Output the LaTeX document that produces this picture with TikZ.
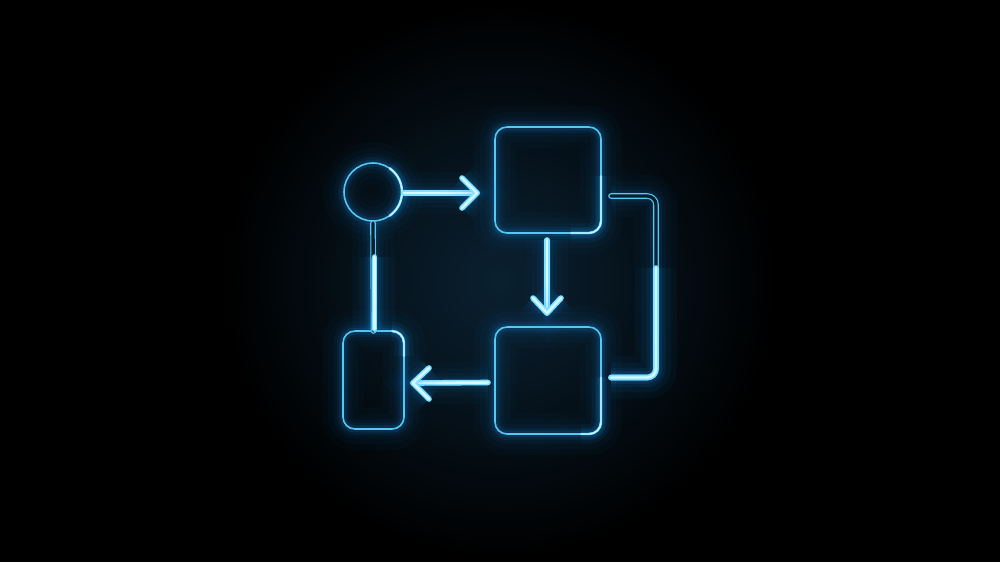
\documentclass[tikz,border=0pt]{standalone}
\usetikzlibrary{calc}
\definecolor{glowc}{HTML}{1E9BFF}
\definecolor{linec}{HTML}{55C8F4}
\definecolor{brightc}{HTML}{7FE3FF}
\definecolor{corec}{HTML}{D8F8FF}
\definecolor{innerc}{HTML}{06202E}
\definecolor{bgc}{HTML}{0A2030}
\pgfdeclareradialshading{bgglow}{\pgfpoint{0bp}{0bp}}{color(0bp)=(bgc); color(10bp)=(bgc!65!black); color(25bp)=(black); color(50bp)=(black)}
\begin{document}
\begin{tikzpicture}[x=0.02cm,y=-0.02cm,
  glow/.style={preaction={draw=glowc,line width=24pt,draw opacity=0.025},
               preaction={draw=glowc,line width=17pt,draw opacity=0.03},
               preaction={draw=glowc,line width=11pt,draw opacity=0.045},
               preaction={draw=glowc,line width=7pt,draw opacity=0.07},
               preaction={draw=glowc,line width=4pt,draw opacity=0.12}},
  softglow/.style={preaction={draw=glowc,line width=11pt,draw opacity=0.04},
               preaction={draw=glowc,line width=6pt,draw opacity=0.08}},
  box/.style={draw=linec, line width=0.9pt, rounded corners=6.8pt, inner sep=0pt, outer sep=0pt, glow},
  circ/.style={circle, draw=linec, line width=0.9pt, inner sep=0pt, outer sep=0pt, glow},
  tube/.style={glow, draw=linec, line width=3.2pt, line cap=round, line join=round, postaction={draw=innerc, line width=1.9pt}},
  brighttube/.style={glow, draw=brightc, line width=3.2pt, line cap=round, line join=round, postaction={draw=corec, line width=1.4pt}},
  brightline/.style={softglow, draw=brightc, line width=1.4pt, line cap=round, postaction={draw=corec, line width=0.5pt}}]
\fill[black] (0,0) rectangle (1000,562);
\shade[shading=bgglow] (500,281) circle (275);
\useasboundingbox (0,0) rectangle (1000,562);

% nodes
\node[circ, minimum size=1.16cm] (c) at (373,192) {};
\node[box, minimum width=2.12cm, minimum height=2.12cm] (tr) at (548,180) {};
\node[box, minimum width=2.12cm, minimum height=2.14cm] (br) at (548,380.5) {};
\node[box, minimum width=1.22cm, minimum height=1.96cm] (lb) at (373.5,380) {};

% bright highlights on shapes
\draw[brightline] (c.center) ++(-55:29) arc[start angle=-55, end angle=55, radius=29];
\draw[brightline, rounded corners=6.8pt] ($(tr.east)+(0,-4)$) -- (tr.south east) -- ($(tr.south east)+(-30,0)$);
\draw[brightline, rounded corners=6.8pt] ($(br.east)+(0,-3)$) -- (br.south east) -- ($(br.south east)+(-20,0)$);
\draw[brightline, rounded corners=6.8pt] ($(lb.north east)+(-12,0)$) -- (lb.north east) -- ($(lb.north east)+(0,25)$);

% circle -> top right box
\coordinate (a1) at ($(c.east)+(75,1)$);
\draw[brighttube] ($(c.east)+(2,1)$) -- (a1);
\draw[brighttube] ($(a1)+(-15,-15)$) -- (a1) -- ($(a1)+(-15,15)$);

% top right -> bottom right
\coordinate (a2s) at ($(tr.south)+(-1,7)$);
\coordinate (a2) at ($(br.north)+(-1,-14)$);
\draw[brighttube] (a2s) -- (a2);
\draw[brighttube] ($(a2)+(-14,-15)$) -- (a2) -- ($(a2)+(14,-15)$);

% bottom right -> left box
\coordinate (a3s) at ($(br.west)+(-7,2)$);
\coordinate (a3) at ($(lb.east)+(9,3)$);
\draw[brighttube] (a3s) -- (a3);
\draw[brighttube] ($(a3)+(16,-15)$) -- (a3) -- ($(a3)+(16,16)$);

% right feedback connector
\draw[tube, rounded corners=5pt] ($(tr.east)+(10,16)$) -- ($(tr.east)+(55,16)$) -- ($(br.east)+(55,-3)$) -- ($(br.east)+(10,-3)$);
\draw[brighttube, rounded corners=5pt] ($(tr.east)+(55,88)$) -- ($(br.east)+(55,-3)$) -- ($(br.east)+(10,-3)$);

% circle -> left box
\draw[tube] ($(c.south)+(0,2)$) -- (lb.north);
\draw[brighttube] ($(lb.north)+(1,-74)$) -- ($(lb.north)+(1,-2)$);
\end{tikzpicture}
\end{document}
